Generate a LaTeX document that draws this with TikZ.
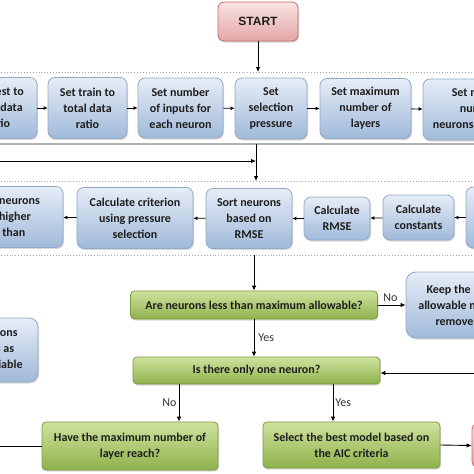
\documentclass[tikz,border=0pt]{standalone}
\usepackage{fontspec}
\setmainfont{Carlito}
\newfontfamily\startfont{Liberation Sans}
\usetikzlibrary{shadows,arrows.meta}
\definecolor{txt}{HTML}{1E1E1E}
\definecolor{lbltxt}{HTML}{333333}
\definecolor{bluetop}{HTML}{E6EDF7}
\definecolor{bluebot}{HTML}{A0B9D9}
\definecolor{bluebd}{HTML}{93A9C6}
\definecolor{greentop}{HTML}{CFE29E}
\definecolor{greenbot}{HTML}{8FB24C}
\definecolor{greenbd}{HTML}{7C9A40}
\definecolor{pinktop}{HTML}{FAE3E3}
\definecolor{pinkbot}{HTML}{E3A6A6}
\definecolor{pinkbd}{HTML}{C46A6A}
\begin{document}
\begin{tikzpicture}[x=1pt,y=-1pt,
  box/.style={rectangle, rounded corners=7pt, align=center, inner sep=2pt, text=txt,
    font=\bfseries\fontsize{12}{16}\selectfont,
    drop shadow={opacity=0.3,shadow xshift=1pt,shadow yshift=-1.5pt}},
  bluebox/.style={box, draw=bluebd, line width=0.8pt, top color=bluetop, bottom color=bluebot},
  greenbox/.style={box, rounded corners=4pt, draw=greenbd, line width=0.8pt, top color=greentop, bottom color=greenbot},
  pinkbox/.style={box, draw=pinkbd, line width=0.8pt, top color=pinktop, bottom color=pinkbot},
  arr/.style={-{Latex[length=5pt,width=4.5pt]}, line width=0.9pt, black},
  sarr/.style={-{Latex[length=4pt,width=4pt]}, line width=0.8pt, black},
  plain/.style={line width=0.9pt, black},
  framedot/.style={gray!70, dotted, line width=0.9pt},
  framesolid/.style={gray!60, line width=1.2pt},
  lbl/.style={font=\fontsize{12}{14}\selectfont, text=lbltxt, inner sep=2pt}]
\useasboundingbox (0,0) rectangle (474,474);
\clip (0,0) rectangle (474,474);
\fill[white] (0,0) rectangle (474,474);

% frames
\draw[framedot] (-5,72) -- (480,72);
\draw[framesolid] (-5,144) -- (480,144);
\draw[framedot] (-5,181) -- (480,181);
\draw[framedot] (-5,255) -- (480,255);

% start
\node[pinkbox, rounded corners=6pt, minimum width=80pt, minimum height=39pt, font=\startfont\bfseries\fontsize{12}{14}\selectfont] (start) at (258,21.5) {START};

% row 1
\node[bluebox, minimum width=77pt, minimum height=61pt] (A) at (-1.5,108) {Set test to\\total data\\ratio};
\node[bluebox, minimum width=79pt, minimum height=61pt] (B) at (87.5,108) {Set train to\\total data\\ratio};
\node[bluebox, minimum width=85pt, minimum height=60pt] (C) at (180.5,108) {Set number\\of inputs for\\each neuron};
\node[bluebox, minimum width=72pt, minimum height=61pt] (D) at (271,108.5) {Set\\selection\\pressure};
\node[bluebox, minimum width=91pt, minimum height=60pt] (E) at (365.5,108.5) {Set maximum\\number of\\layers};
\node[bluebox, minimum width=126pt, minimum height=61pt] (F) at (486,109.5) {Set maximum\\number of\\neurons in each layer};

% row 2
\node[bluebox, minimum width=130pt, minimum height=61pt] (G) at (-2,217) {Remove neurons\\with a higher\\RMSE than};
\node[bluebox, minimum width=116pt, minimum height=61pt] (H) at (135,218) {Calculate criterion\\using pressure\\selection};
\node[bluebox, minimum width=86pt, minimum height=60pt] (I) at (249,218.5) {Sort neurons\\based on\\RMSE};
\node[bluebox, minimum width=66pt, minimum height=43pt] (J) at (337,218.5) {Calculate\\RMSE};
\node[bluebox, minimum width=71pt, minimum height=45pt] (K) at (418.5,217.5) {Calculate\\constants};
\node[bluebox, minimum width=88pt, minimum height=61pt] (L) at (510,217.5) {};

% decisions and lower boxes
\node[greenbox, minimum width=247pt, minimum height=28pt] (D1) at (254,305) {Are neurons less than maximum allowable?};
\node[bluebox, rounded corners=10pt, minimum width=138pt, minimum height=66pt] (Keep) at (475,305) {Keep the maximum\\allowable neurons and\\remove the rest};
\node[greenbox, minimum width=247pt, minimum height=27pt] (D2) at (256.5,370.5) {Is there only one neuron?};
\node[bluebox, rounded corners=9pt, minimum width=100pt, minimum height=64pt] (M) at (-12,350) {Set neurons\\outputs as\\input variable};
\node[greenbox, minimum width=176pt, minimum height=48pt] (Have) at (130,446) {Have the maximum number of\\layer reach?};
\node[greenbox, minimum width=177pt, minimum height=46pt] (Sel) at (351.5,445) {Select the best model based on\\the AIC criteria};
\node[pinkbox, minimum width=80pt, minimum height=45pt] (End) at (512,445.5) {};

% coordinates
\coordinate (f1t) at (258,72);
\coordinate (f1b) at (256,144);
\coordinate (j) at (256,161);
\coordinate (f2t) at (256,181);
\coordinate (f2b) at (254,255);

% connectors
\draw[arr] (start.south) -- (f1t);
\foreach \a/\b in {A/B,B/C,C/D,D/E,E/F,L/K,K/J,J/I,I/H,H/G} \draw[sarr] (\a) -- (\b);
\draw[plain] (f1b) -- (j);
\draw[arr] (j) -- (f2t);
\draw[arr] (Have.west) -- ++(-60,0) |- (j);
\draw[arr] (f2b) -- (f2b |- D1.north);
\draw[arr] (D1.east) -- (Keep.west) node[lbl, above, pos=0.45, yshift=1pt] {No};
\draw[arr] (D1.south) -- (D1.south |- D2.north) node[lbl, right, midway, xshift=2pt] {Yes};
\draw[arr] (Keep.east) -- ++(10,0) |- ([yshift=-2.5pt]D2.east);
\draw[arr] ([xshift=-77.5pt]D2.south) -- ([xshift=-77.5pt]D2.south |- Have.north) node[lbl, left, midway] {No};
\draw[arr] ([xshift=76.5pt]D2.south) -- ([xshift=76.5pt]D2.south |- Sel.north) node[lbl, right, midway] {Yes};
\draw[arr] (Sel.east) -- (End.west);
\end{tikzpicture}
\end{document}
